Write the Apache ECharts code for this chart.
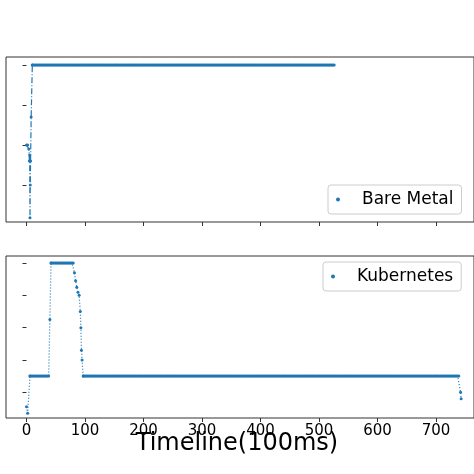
<!DOCTYPE html><html><head><meta charset="utf-8"><script src="https://cdn.jsdelivr.net/npm/echarts@6/dist/echarts.min.js"></script></head><body style="margin:0"><div id="c" style="width:474px;height:474px"></div><script>
// run-length segments [xStart, xEnd, value], sampled every 2 units
const bareMetalPoints = [[0,2.0],[2,2.0],[4,1.9],[5,1.6],[5.5,1.75],[6,0.18],[6.5,1.0],[7,1.6],[8,2.7],[10,4.0]];
const bareMetalFlat = [[10,526,4.0]];
const k8sPoints = [[0,0.55],[2,0.35],[6,1.5]];
const k8sFlat1 = [[6,38,1.5]];
const k8sRise = [[40,3.25],[42,5.0]];
const k8sFlat2 = [[42,80,5.0]];
const k8sFall = [[82,4.7],[84,4.45],[86,4.25],[88,4.1],[90,4.0],[92,3.5],[93,3.0],[94,2.3],[95,2.0],[97,1.5]];
const k8sFlat3 = [[97,740,1.5]];
const k8sEnd = [[742,1.0],[743,0.8]];
const xTicks = [0,100,200,300,400,500,600,700];
function expand(segs){const o=[];segs.forEach(s=>{for(let x=s[0];x<=s[1];x+=2)o.push([x,s[2]]);});return o;}
const bm = bareMetalPoints.concat(expand(bareMetalFlat));
const k8 = k8sPoints.concat(expand(k8sFlat1),k8sRise,expand(k8sFlat2),k8sFall,expand(k8sFlat3),k8sEnd);
const C='#1f77b4';
const xa = (i,lab)=>({type:'value',gridIndex:i,min:-35,max:765,axisLine:{show:false},splitLine:{show:false},
 axisTick:{show:true,customValues:xTicks,length:4,lineStyle:{color:'#333'}},
 axisLabel:{show:lab,customValues:xTicks,fontSize:15,color:'#000',margin:6,fontFamily:'DejaVu Sans'}});
const ya = (i,min,max,t)=>({type:'value',gridIndex:i,min,max,axisLine:{show:false},splitLine:{show:false},
 axisTick:{show:true,customValues:t,length:4,lineStyle:{color:'#333'}},axisLabel:{show:false}});
const lg = (name,left,top)=>({data:[{name,icon:'circle'}],left,top,padding:[6,8],itemWidth:38,itemHeight:4,itemGap:10,borderColor:'#ccc',borderWidth:1,borderRadius:3,textStyle:{fontSize:17,fontFamily:'DejaVu Sans',color:'#000'}});
echarts.init(document.getElementById('c')).setOption({
 animation:false,
 grid:[{left:6,top:57,width:480,height:165,show:true,borderColor:'#333',borderWidth:1},
       {left:6,top:256,width:480,height:162,show:true,borderColor:'#333',borderWidth:1}],
 xAxis:[xa(0,false),xa(1,true)],
 yAxis:[ya(0,0.075,4.2,[1,2,3,4]),ya(1,0.2,5.22,[1,2,3,4,5])],
 legend:[lg('Bare Metal',328,185),lg('Kubernetes',323,262)],
 graphic:[{type:'text',left:'center',top:432,style:{text:'Timeline(100ms)',fontSize:24,fontFamily:'DejaVu Sans',fill:'#000'}}],
 series:[{name:'Bare Metal',type:'line',xAxisIndex:0,yAxisIndex:0,data:bm,symbol:'circle',symbolSize:3,color:C,lineStyle:{width:1.2,type:[6,2,1,2]}},
  {name:'Kubernetes',type:'line',xAxisIndex:1,yAxisIndex:1,data:k8,symbol:'circle',symbolSize:3,color:C,lineStyle:{width:1.2,type:[1,2]}}]
});
</script></body></html>
